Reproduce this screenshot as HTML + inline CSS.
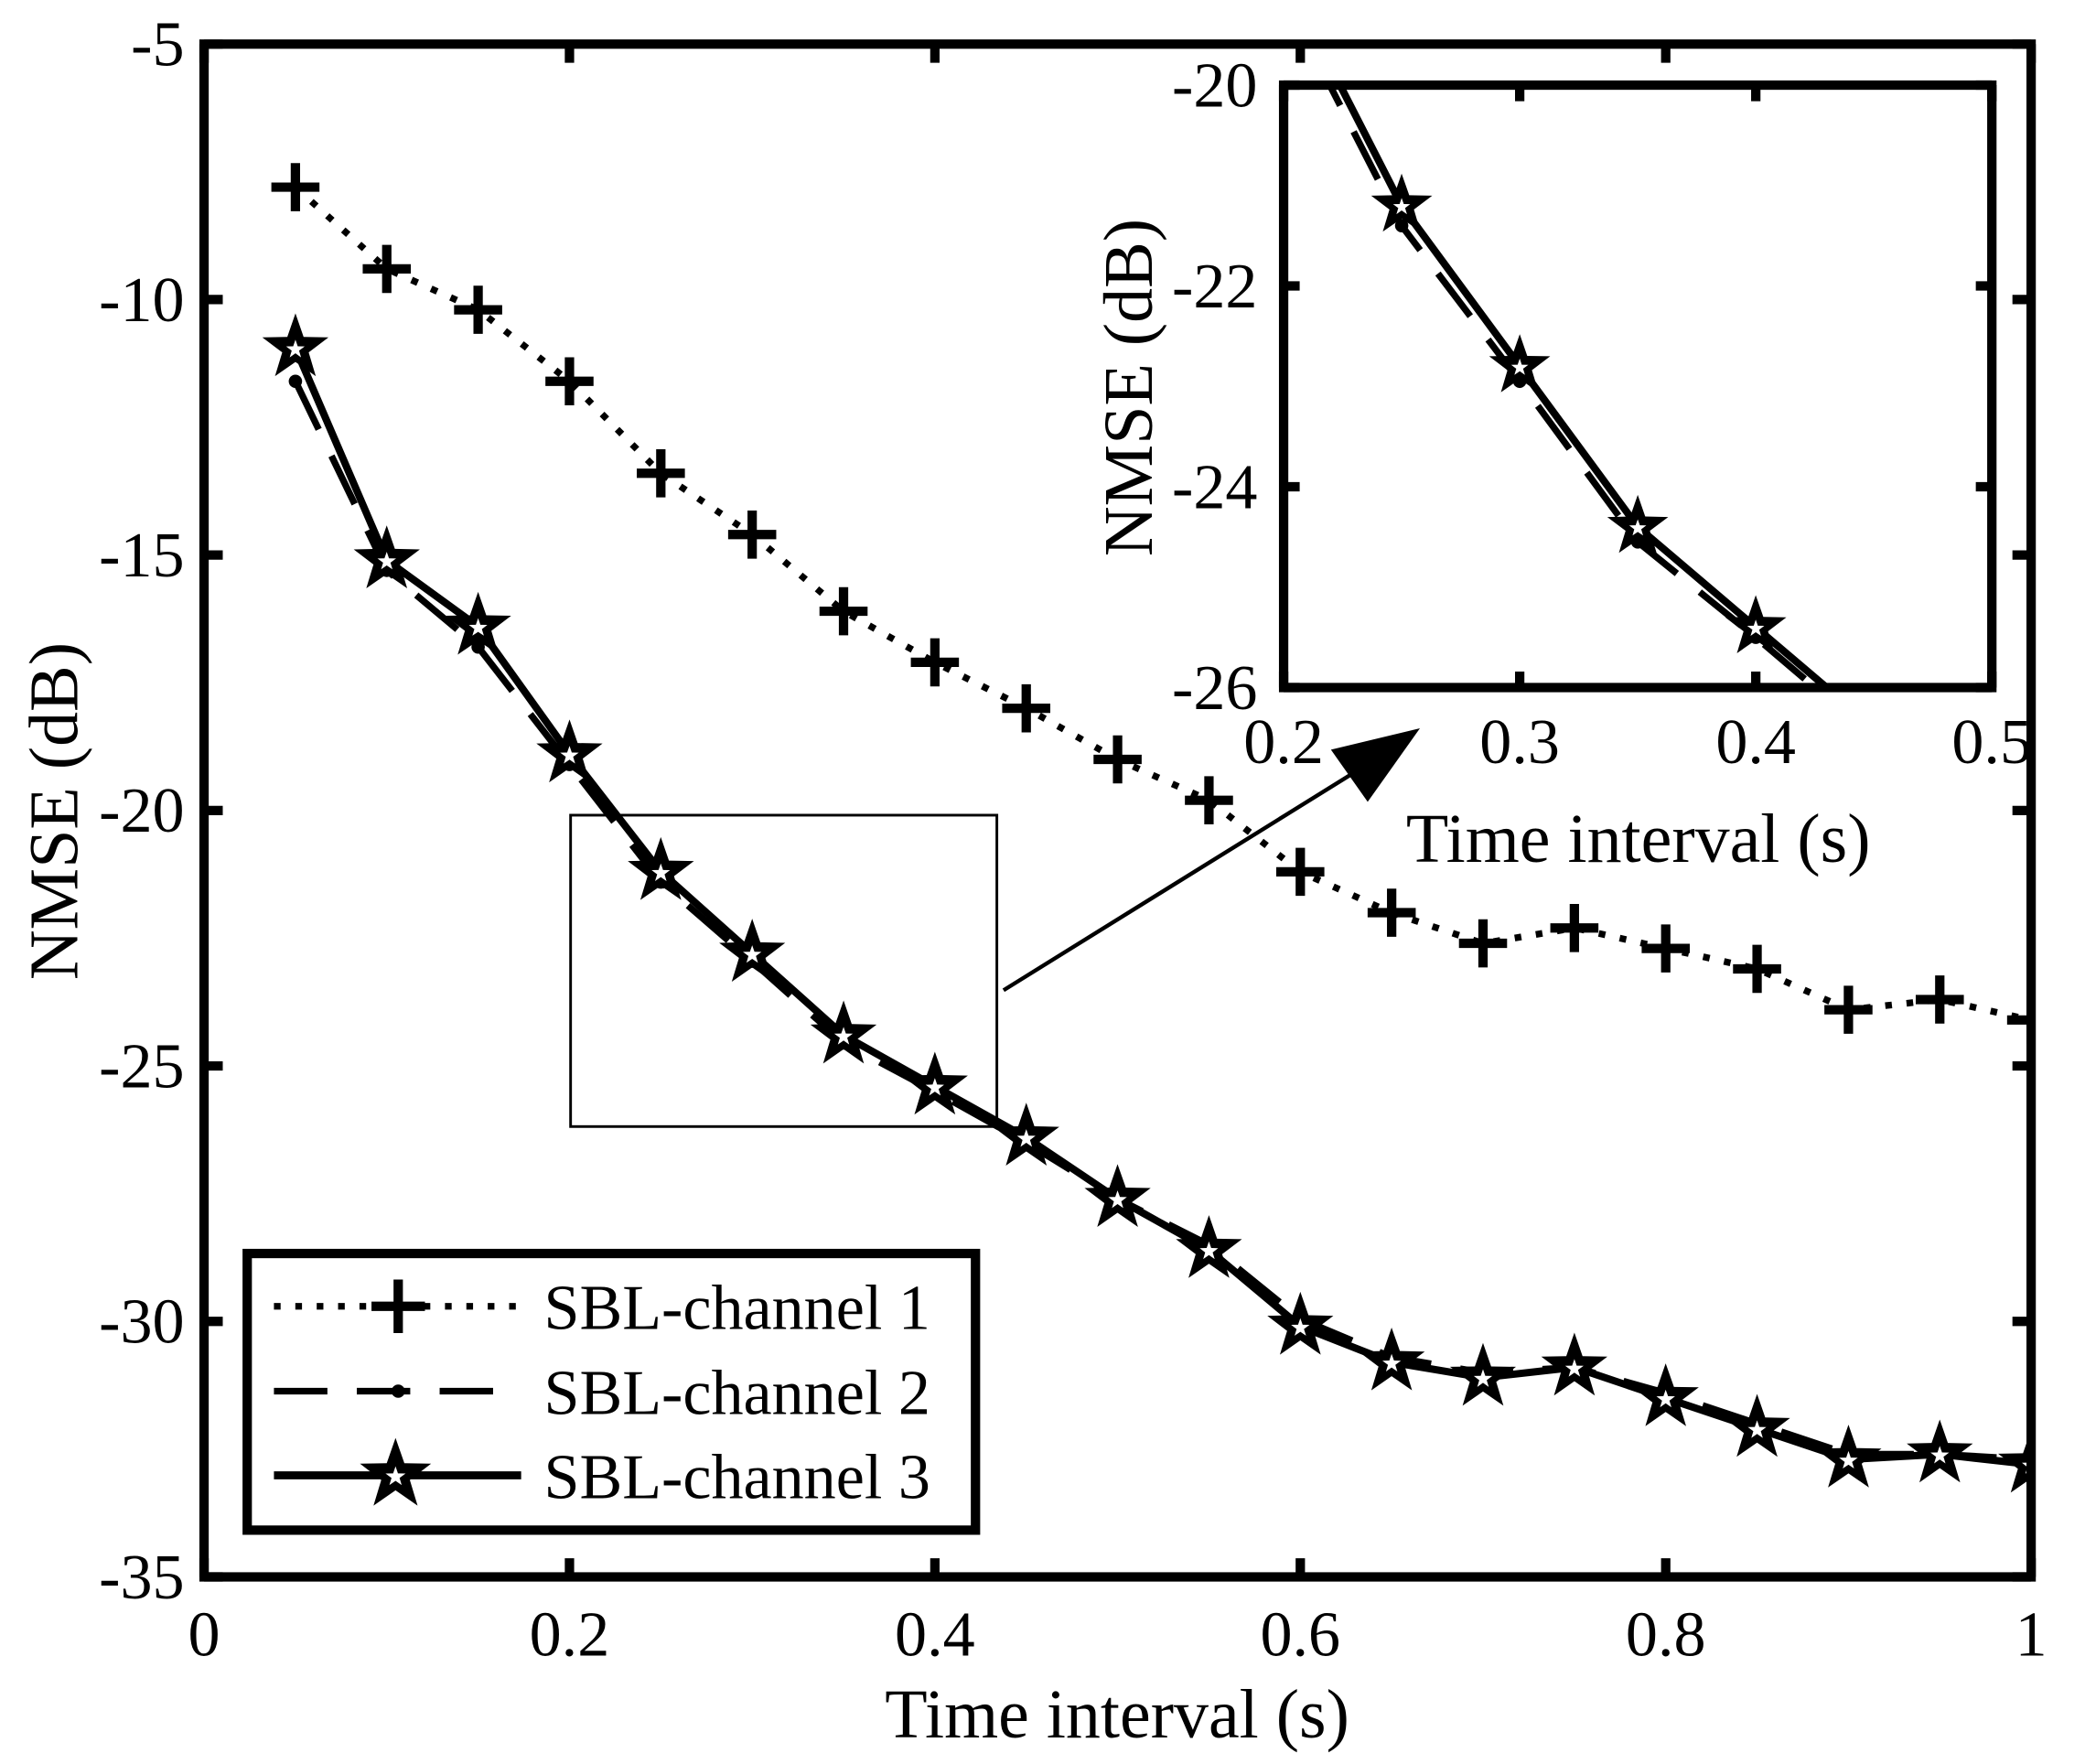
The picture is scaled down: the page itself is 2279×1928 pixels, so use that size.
<!DOCTYPE html>
<html><head><meta charset="utf-8"><style>html,body{margin:0;padding:0;background:#fff}svg{display:block}text{font-family:"Liberation Serif",serif;fill:#000}</style></head>
<body>
<svg id="s" width="2279" height="1928" viewBox="0 0 1560.3 1320" xmlns="http://www.w3.org/2000/svg">
<defs>
<clipPath id="ic"><rect x="960.6" y="63.7" width="530" height="450.8"/></clipPath>
<clipPath id="mc"><rect x="152.7" y="33" width="1367.3" height="1147"/></clipPath>
</defs>
</svg>
<script>
const NS="http://www.w3.org/2000/svg",S=document.getElementById('s');
function el(t,a,p){const e=document.createElementNS(NS,t);for(const k in a)e.setAttribute(k,a[k]);(p||S).appendChild(e);return e;}
function tx(x,y,s,size,anchor,extra){const e=el('text',Object.assign({x,y,'font-size':size,'text-anchor':anchor||'middle'},extra||{}));e.textContent=s;return e;}
const c1=[-7.8,-9.4,-10.2,-11.6,-13.4,-14.6,-16.1,-17.1,-18,-19,-19.8,-21.2,-22,-22.6,-22.3,-22.7,-23.1,-23.9,-23.7,-24.1];
const c3=[-10.95,-15.1,-16.4,-18.9,-21.2,-22.8,-24.4,-25.4,-26.4,-27.6,-28.6,-30.1,-30.8,-31.1,-30.9,-31.5,-32.1,-32.7,-32.6,-32.8];
const c2=[-11.6,-15.3,-16.8,-19.1,-21.4,-22.95,-24.55,-25.5,-26.5,-27.6,-28.5,-29.95,-30.7,-31.0,-30.9,-31.4,-32.0,-32.6,-32.6,-32.7];
const T=c1.map((_,i)=>0.05*(i+1));
function starPts(cx,cy,r){let p=[];for(let i=0;i<10;i++){const rr=i%2?r*0.4:r,a=-Math.PI/2+i*Math.PI/5;p.push((cx+rr*Math.cos(a)).toFixed(1)+','+(cy+rr*Math.sin(a)).toFixed(1));}return p.join(' ');}
function star(cx,cy,r,g){el('polygon',{points:starPts(cx,cy,r),fill:'#000'},g);el('polygon',{points:starPts(cx,cy+1,r*0.28),fill:'#fff'},g);}
function plus(cx,cy,r,g,sw){el('path',{d:`M${cx-r},${cy}H${cx+r}M${cx},${cy-r}V${cy+r}`,stroke:'#000','stroke-width':sw,fill:'none'},g);}
const DOT={'stroke-dasharray':'5 11','stroke-width':5};
const DASH={'stroke-dasharray':'40 22','stroke-width':5};
function series(g,X,Y,sr){
 const p=(a)=>a.map((v,i)=>X(T[i]).toFixed(1)+','+Y(v).toFixed(1)).join(' ');
 el('polyline',Object.assign({points:p(c1),fill:'none',stroke:'#000'},DOT),g);
 el('polyline',Object.assign({points:p(c2),fill:'none',stroke:'#000'},DASH),g);
 el('polyline',{points:p(c3),fill:'none',stroke:'#000','stroke-width':5.5},g);
 T.forEach((t,i)=>{plus(X(t),Y(c1[i]),18,g,7);el('circle',{cx:X(t),cy:Y(c2[i]),r:5,fill:'#000'},g);star(X(t),Y(c3[i]),sr,g);});
}
// main
const mX=t=>152.7+1367.3*t,mY=v=>33+38.233*(-5-v);
const gm=el('g',{'clip-path':'url(#mc)'});
series(gm,mX,mY,26);
el('rect',{x:152.7,y:33,width:1367.3,height:1147,fill:'none',stroke:'#000','stroke-width':7});
for(let i=0;i<=5;i++){const x=mX(i*0.2);el('path',{d:`M${x},1180v-14M${x},33v14`,stroke:'#000','stroke-width':7});tx(x,1239,i==0?'0':i==5?'1':(i*0.2).toFixed(1),48);}
for(let v=-5;v>=-35;v-=5){const y=mY(v);el('path',{d:`M152.7,${y}h14M1520,${y}h-14`,stroke:'#000','stroke-width':7});tx(138,y+16,String(v),48,'end');}
tx(836,1300,'Time interval (s)',52);
tx(0,0,'NMSE (dB)',52,'middle',{transform:'translate(58,607) rotate(-90)'});
// zoom rect + arrow
el('rect',{x:427,y:610,width:319,height:233,fill:'none',stroke:'#000','stroke-width':2});
el('line',{x1:751,y1:741,x2:1020,y2:574,stroke:'#000','stroke-width':3});
el('polygon',{points:'1062.6,545 996,561 1023.5,600',fill:'#000'});
// inset
el('rect',{x:960.6,y:63.7,width:530,height:450.8,fill:'#fff'});
const iX=t=>960.6+1766.7*(t-0.2),iY=v=>63.7+75.13*(-20-v);
const gi=el('g',{'clip-path':'url(#ic)'});
series(gi,iX,iY,24);
el('rect',{x:960.6,y:63.7,width:530,height:450.8,fill:'none',stroke:'#000','stroke-width':7});
for(let i=0;i<=3;i++){const t=0.2+0.1*i,x=iX(t);el('path',{d:`M${x},514.5v-12M${x},63.7v12`,stroke:'#000','stroke-width':7});tx(x,571,t.toFixed(1),48);}
for(let v=-20;v>=-26;v-=2){const y=iY(v);el('path',{d:`M960.6,${y}h12M1490.6,${y}h-12`,stroke:'#000','stroke-width':7});tx(941,y+16,String(v),48,'end');}
tx(1226,645,'Time interval (s)',52);
tx(0,0,'NMSE (dB)',52,'middle',{transform:'translate(862,290) rotate(-90)'});
// legend
el('rect',{x:185,y:938,width:545,height:207,fill:'#fff',stroke:'#000','stroke-width':7});
const ly=[977.5,1041,1104],nm=['SBL-channel 1','SBL-channel 2','SBL-channel 3'];
el('line',Object.assign({x1:205,y1:ly[0],x2:390,y2:ly[0],stroke:'#000'},DOT));plus(298,ly[0],20,S,7);
el('line',Object.assign({x1:205,y1:ly[1],x2:390,y2:ly[1],stroke:'#000'},DASH));el('circle',{cx:298,cy:ly[1],r:5});
el('line',{x1:205,y1:ly[2],x2:390,y2:ly[2],stroke:'#000','stroke-width':6});star(296,ly[2],28,S);
nm.forEach((n,i)=>tx(407,ly[i]+17,n,48,'start'));
</script>
</body></html>
